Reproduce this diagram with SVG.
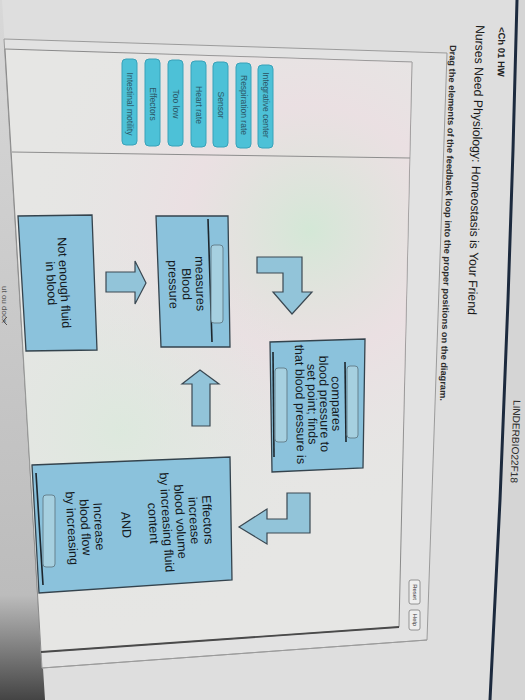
<svg xmlns="http://www.w3.org/2000/svg" width="525" height="700" viewBox="0 0 525 700">
<defs>
<style>
.t{font-family:"Liberation Sans",Arial,Helvetica,sans-serif}
.box{fill:#8bc2dc;stroke:#34434d;stroke-width:1.3}
.arr{fill:#92c4d9;stroke:#3a4852;stroke-width:1.2}
.slot{fill:#a6d0e0;stroke:#66828f;stroke-width:1}
.base{stroke:#1d262d;stroke-width:1.6;fill:none}
.pill{fill:#4dc1d7;stroke:#39a2b9;stroke-width:1}
.pt{font-size:8.5px;fill:#2b5868}
.bt{font-size:12.5px;fill:#14191d}
.ln{fill:none;stroke:#8d8d8d;stroke-width:1}
.btn{fill:#efefef;stroke:#7d7d7d;stroke-width:0.8}
.bn{font-size:6px;fill:#333}
</style>
<linearGradient id="leftg" x1="0" y1="0" x2="0" y2="1">
<stop offset="0" stop-color="#d8d8d8"/><stop offset="0.85" stop-color="#bcbcbc"/><stop offset="1" stop-color="#444"/>
</linearGradient>
<radialGradient id="mg1" cx="310" cy="230" r="280" gradientUnits="userSpaceOnUse">
<stop offset="0" stop-color="#cfe8d3" stop-opacity="0.8"/><stop offset="0.45" stop-color="#eedbe1" stop-opacity="0.55"/><stop offset="1" stop-color="#e4e4e4" stop-opacity="0"/>
</radialGradient>
<radialGradient id="mg2" cx="120" cy="430" r="200" gradientUnits="userSpaceOnUse">
<stop offset="0" stop-color="#d7ead9" stop-opacity="0.6"/><stop offset="1" stop-color="#e4e4e4" stop-opacity="0"/>
</radialGradient>
</defs>

<g id="background">
<rect x="0" y="0" width="525" height="700" fill="#dedede"/>
<polygon points="0,0 2,0 45,700 0,700" fill="url(#leftg)"/>
<polygon points="517,0 525,0 525,700 490,700 500,500 508,300 513,150" fill="#d5d5d5"/>
<polyline points="517,0 513,150 508,300 500,500 490,700" fill="none" stroke="#1c2a3e" stroke-width="3"/>
<polygon points="4,39 447,53 427,640 42,668" fill="#e2e2e2" stroke="#9b9b9b" stroke-width="1"/>
<polygon points="5,49 412,62 399,627 41,652" fill="#e6e6e4" stroke="#8a8a8a" stroke-width="1"/>
<polygon points="5,49 412,62 399,627 41,652" fill="url(#mg1)"/>
<polygon points="5,49 412,62 399,627 41,652" fill="url(#mg2)"/>
<line x1="399" y1="627" x2="41" y2="652" stroke="#4a4a4a" stroke-width="1.8"/>
<line class="ln" x1="12" y1="152" x2="410" y2="158"/>
<line x1="427" y1="640" x2="42" y2="668" stroke="#9b9b9b" stroke-width="1"/>
<text class="t" transform="translate(4,286) rotate(90)" font-size="8" fill="#555" dominant-baseline="central">ut ou docx</text>
<polyline points="7,317 3,321 7,325" fill="none" stroke="#555" stroke-width="1"/>
</g>

<g id="header">
<text class="t" transform="translate(502,27) rotate(91)" font-size="9.5" font-weight="bold" fill="#222" dominant-baseline="central">&lt;Ch 01 HW</text>
<text class="t" transform="translate(480,25) rotate(91.6)" font-size="12.5" fill="#1a1a1a" dominant-baseline="central" textLength="290" lengthAdjust="spacingAndGlyphs">Nurses Need Physiology: Homeostasis is Your Friend</text>
<text class="t" transform="translate(453,45) rotate(91.6)" font-size="9" font-weight="bold" fill="#2a2a2a" dominant-baseline="central" textLength="356" lengthAdjust="spacingAndGlyphs">Drag the elements of the feedback loop into the proper positions on the diagram.</text>
<text class="t" transform="translate(517,400) rotate(92)" font-size="10" fill="#2a2a2a" dominant-baseline="central" textLength="83" lengthAdjust="spacingAndGlyphs">LINDERBIO22F18</text>
</g>

<g id="pill-integrative-center"><rect class="pill" x="258" y="65" width="15" height="83" rx="4"/><text class="t pt" transform="translate(265.5,105) rotate(90)" text-anchor="middle" dominant-baseline="central">Integrative center</text></g>
<g id="pill-respiration-rate"><rect class="pill" x="236" y="63" width="15" height="85" rx="4"/><text class="t pt" transform="translate(243.5,105) rotate(90)" text-anchor="middle" dominant-baseline="central">Respiration rate</text></g>
<g id="pill-sensor"><rect class="pill" x="213" y="62" width="15" height="85" rx="4"/><text class="t pt" transform="translate(220.5,105) rotate(90)" text-anchor="middle" dominant-baseline="central">Sensor</text></g>
<g id="pill-heart-rate"><rect class="pill" x="191" y="61" width="15" height="86" rx="4"/><text class="t pt" transform="translate(198.5,105) rotate(90)" text-anchor="middle" dominant-baseline="central">Heart rate</text></g>
<g id="pill-too-low"><rect class="pill" x="168" y="60" width="15" height="86" rx="4"/><text class="t pt" transform="translate(175.5,104) rotate(90)" text-anchor="middle" dominant-baseline="central">Too low</text></g>
<g id="pill-effectors"><rect class="pill" x="145" y="59" width="15" height="87" rx="4"/><text class="t pt" transform="translate(152.5,104) rotate(90)" text-anchor="middle" dominant-baseline="central">Effectors</text></g>
<g id="pill-intestinal-motility"><rect class="pill" x="122" y="59" width="15" height="86" rx="4"/><text class="t pt" transform="translate(129.5,104) rotate(90)" text-anchor="middle" dominant-baseline="central">Intestinal motility</text></g>

<g id="connectors">
<polygon class="arr" points="106,272 135,272 135,261 146,283 135,304 135,292 106,292"/>
<polygon class="arr" points="257,257 302,257 302,292 312,292 292,314 273,292 283,292 283,273 257,273"/>
<polygon class="arr" points="192,426 192,384 182,384 200,370 219,384 210,384 210,426"/>
<polygon class="arr" points="287,493 310,493 310,533 267,533 267,544 239,527 267,509 267,519 287,519"/>
</g>

<g id="node-not-enough">
<polygon class="box" points="18,216 92,215 97,350 26,351"/>
<text class="t bt" font-size="13" transform="translate(57.5,283) rotate(87)" text-anchor="middle" dominant-baseline="central"><tspan x="0" y="-6.5">Not enough fluid</tspan><tspan x="0" y="6.5">in blood</tspan></text>
</g>

<g id="node-measures">
<polygon class="box" points="156,216 228,216 230,347 161,347"/>
<line class="base" x1="208" y1="219" x2="212" y2="342"/>
<rect class="slot" x="211" y="245" width="12" height="78" rx="3"/>
<text class="t bt" font-size="13" transform="translate(186.5,284) rotate(88.3)" text-anchor="middle" dominant-baseline="central"><tspan x="0" y="-13.5">measures</tspan><tspan x="0" y="0">Blood</tspan><tspan x="0" y="13.5">pressure</tspan></text>
</g>

<g id="node-compares">
<polygon class="box" points="270,342 365,339 363,468 272,472"/>
<line class="base" x1="345" y1="362" x2="346" y2="442"/>
<rect class="slot" x="347" y="366" width="11" height="72" rx="3"/>
<line class="base" x1="273" y1="352" x2="274" y2="457"/>
<rect class="slot" x="275" y="368" width="12" height="74" rx="3"/>
<text class="t bt" font-size="12" transform="translate(318,404) rotate(89)" text-anchor="middle" dominant-baseline="central"><tspan x="0" y="-18">compares</tspan><tspan x="0" y="-6">blood pressure to</tspan><tspan x="0" y="6">set point; finds</tspan><tspan x="0" y="18">that blood pressure is</tspan></text>
</g>

<g id="node-effectors">
<polygon class="box" points="32,465 230,457 232,580 39,593"/>
<line class="base" x1="36" y1="473" x2="43" y2="585"/>
<rect class="slot" x="43" y="495" width="12" height="72" rx="3"/>
<text class="t bt" transform="translate(139.5,524) rotate(86.5)" text-anchor="middle" dominant-baseline="central"><tspan x="0" y="-68">Effectors</tspan><tspan x="0" y="-54.4">increase</tspan><tspan x="0" y="-40.8">blood volume</tspan><tspan x="0" y="-27.2">by increasing fluid</tspan><tspan x="0" y="-13.6">content</tspan><tspan x="0" y="13.6">AND</tspan><tspan x="0" y="40.8">Increase</tspan><tspan x="0" y="54.4">blood flow</tspan><tspan x="0" y="68">by increasing</tspan></text>
</g>

<g id="btn-reset"><rect class="btn" x="409" y="580" width="11" height="24" rx="2"/><text class="t bn" transform="translate(414.5,592) rotate(90)" text-anchor="middle" dominant-baseline="central">Reset</text></g>
<g id="btn-help"><rect class="btn" x="409" y="610" width="11" height="20" rx="2"/><text class="t bn" transform="translate(414.5,620) rotate(90)" text-anchor="middle" dominant-baseline="central">Help</text></g>
</svg>
